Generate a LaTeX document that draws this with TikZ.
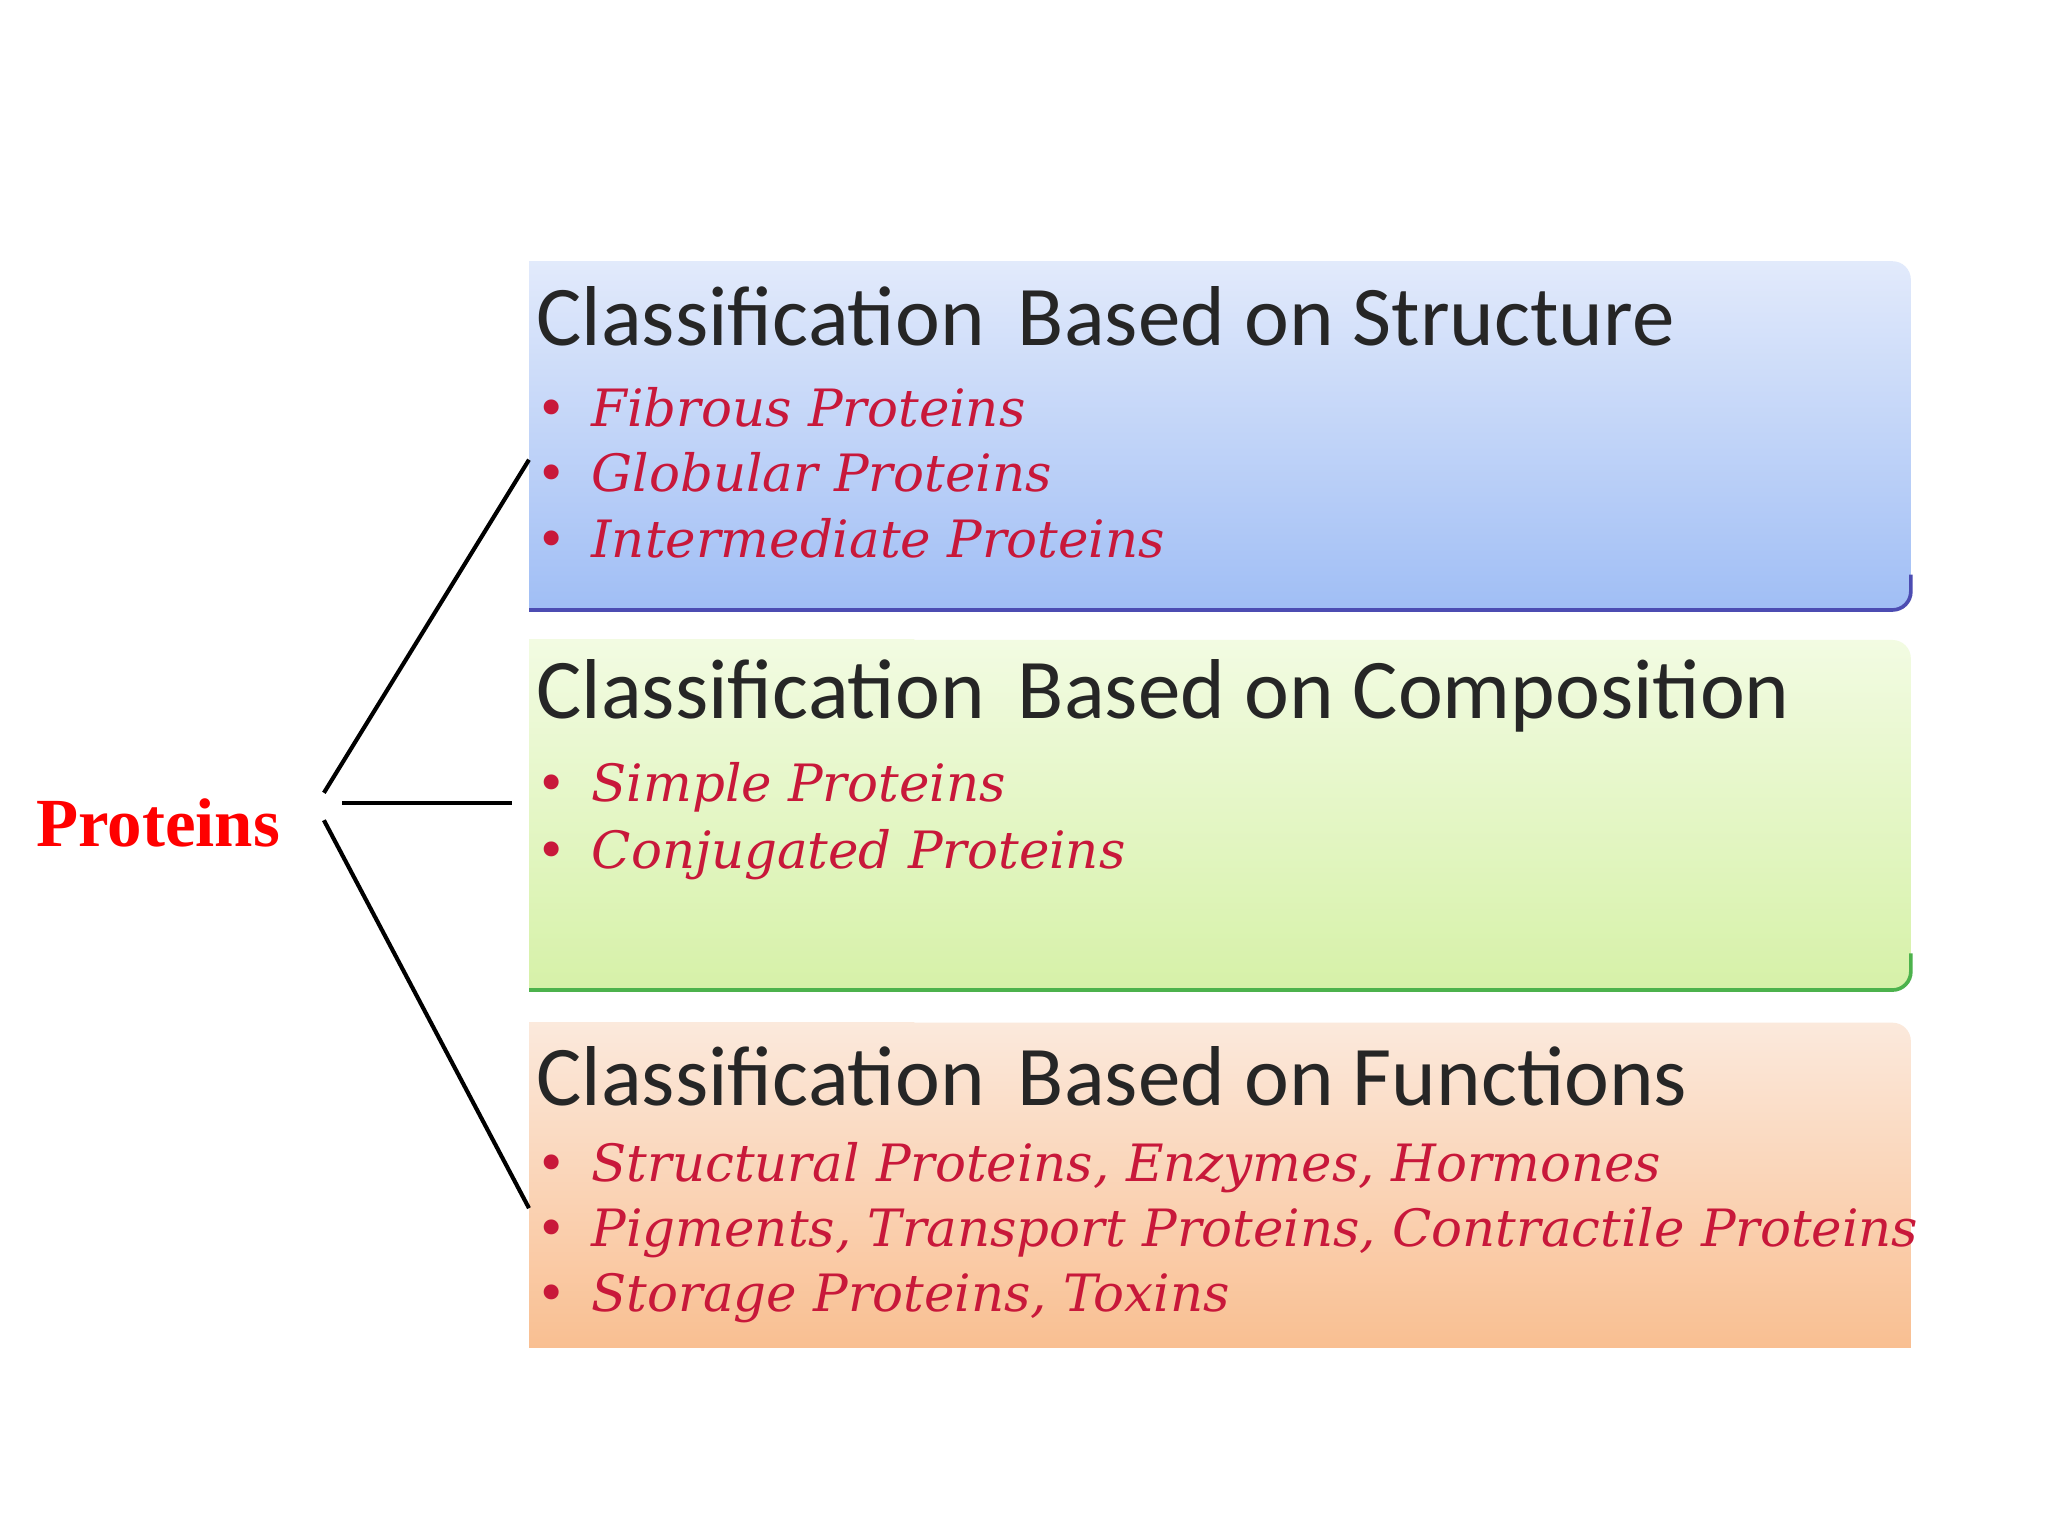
\documentclass[tikz,border=0pt]{standalone}
\usepackage{fontspec}
\setmainfont{Liberation Serif}
\newfontfamily\carl{Carlito}
\newfontfamily\dvs{DejaVu Serif}
\definecolor{itred}{HTML}{C8183A}
\definecolor{btop}{HTML}{E2EAFB}
\definecolor{bbot}{HTML}{A0BEF5}
\definecolor{gtop}{HTML}{F2FBE2}
\definecolor{gbot}{HTML}{D6F1A8}
\definecolor{otop}{HTML}{FBE9DC}
\definecolor{obot}{HTML}{F9BC8C}
\begin{document}
\begin{tikzpicture}[x=0.01cm,y=-0.01cm,
 ttl/.style={anchor=west,font=\carl\fontsize{18.5}{22}\selectfont,text=black!85,inner sep=0},
 itm/.style={anchor=west,font=\dvs\itshape\fontsize{11.2}{14}\selectfont,text=itred,inner sep=0},
 conn/.style={line width=0.9pt,black}]
\useasboundingbox (0,0) rectangle (1568,1176);
\fill[white] (0,0) rectangle (1568,1176);
% boxes
\shade[top color=btop,bottom color=bbot,rounded corners=4pt] (380,200) rectangle (1463,467);
\shade[top color=btop,bottom color=bbot] (380,200) rectangle (700,467);
\draw[blue!40!gray,line width=0.8pt,rounded corners=4pt] (405,467) -- (1463,467) -- (1463,440);
\shade[top color=gtop,bottom color=gbot,rounded corners=4pt] (380,490) rectangle (1463,758);
\shade[top color=gtop,bottom color=gbot] (380,490) rectangle (700,758);
\draw[green!40!gray,line width=0.8pt,rounded corners=4pt] (405,758) -- (1463,758) -- (1463,730);
\shade[top color=otop,bottom color=obot,rounded corners=4pt] (380,783) rectangle (1463,1050);
\shade[top color=otop,bottom color=obot] (380,783) rectangle (700,1050);
\fill[white] (370,1032) rectangle (1480,1070);
\fill[white] (370,190) rectangle (405,1070);
\node[ttl] (t1) at (410,242) {Classification\, Based on Structure};
\node[itm] at (410,312) {\textbullet\ \,Fibrous Proteins};
\node[itm] at (410,362) {\textbullet\ \,Globular Proteins};
\node[itm] at (410,412) {\textbullet\ \,Intermediate Proteins};
\node[ttl] (t2) at (410,533) {Classification\, Based on Composition};
\node[itm] at (410,603) {\textbullet\ \,Simple Proteins};
\node[itm] at (410,654) {\textbullet\ \,Conjugated Proteins};
\node[ttl] (t3) at (410,824) {Classification\, Based on Functions};
\node[itm] at (410,894) {\textbullet\ \,Structural Proteins, Enzymes, Hormones};
\node[itm] at (410,944) {\textbullet\ \,Pigments, Transport Proteins, Contractile Proteins};
\node[itm] at (410,994) {\textbullet\ \,Storage Proteins, Toxins};
% proteins
\node[font=\bfseries\fontsize{15}{18}\selectfont,text=red,inner sep=0] (p) at (121,630) {Proteins};
\coordinate (a1) at (248,607); \coordinate (b1) at (405,352);
\coordinate (a2) at (262,615); \coordinate (b2) at (392,615);
\coordinate (a3) at (248,628); \coordinate (b3) at (405,925);
\draw[conn] (a1) -- (b1);
\draw[conn] (a2) -- (b2);
\draw[conn] (a3) -- (b3);
\end{tikzpicture}
\end{document}
